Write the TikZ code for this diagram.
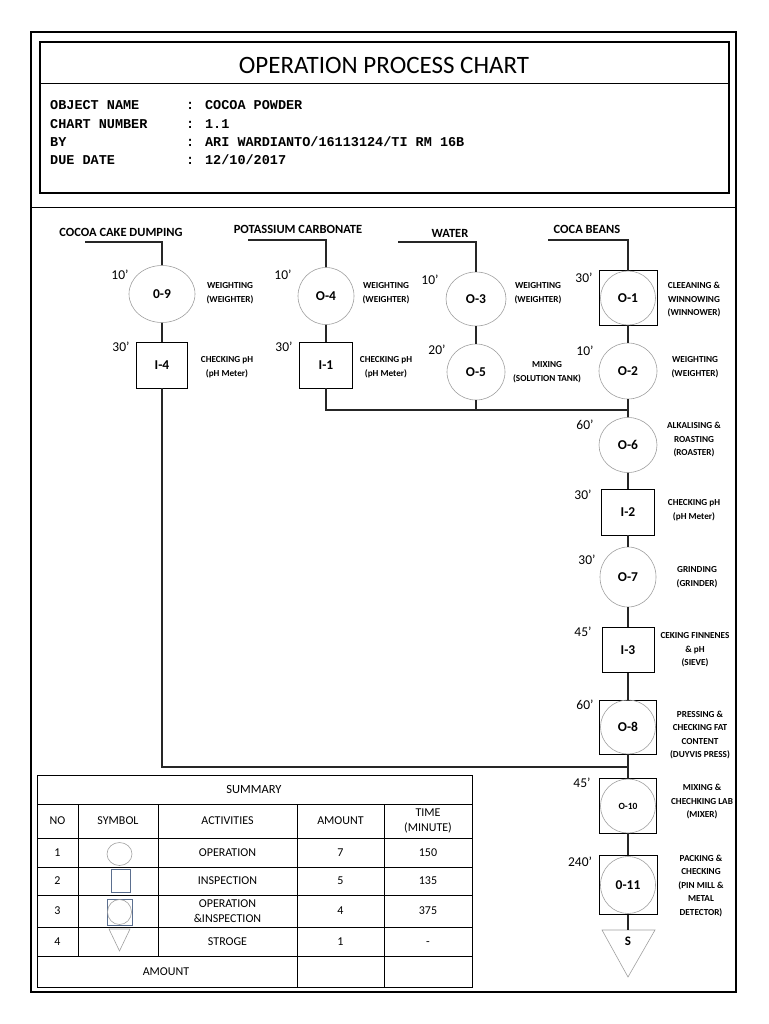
\documentclass[tikz,border=0pt]{standalone}
\usepackage{fontspec}
\setmainfont{Carlito}
\newfontfamily\monof{Liberation Mono}
\usetikzlibrary{shapes.geometric,calc}
\definecolor{cgray}{HTML}{A0A0A0}
\definecolor{sqblue}{HTML}{5B6F8F}
\begin{document}
\begin{tikzpicture}[x=1pt,y=-1pt,
  op/.style={ellipse, draw=cgray, line width=0.6pt, minimum width=58pt, minimum height=56pt, inner sep=0pt, font=\fontsize{13.5}{13.5}\selectfont\bfseries},
  insp/.style={rectangle, draw=black, line width=0.7pt, minimum width=53pt, minimum height=46pt, inner sep=0pt, font=\fontsize{13.5}{13.5}\selectfont\bfseries},
  combo/.style={rectangle, draw=black, line width=0.7pt, minimum width=58pt, minimum height=55pt, inner sep=0pt},
  combocirc/.style={ellipse, draw=cgray, line width=0.6pt, minimum width=55pt, minimum height=54pt, inner sep=0pt, font=\fontsize{13.5}{13.5}\selectfont\bfseries},
  conn/.style={line width=1.1pt, draw=black!85},
  desc/.style={font=\fontsize{9.2}{13.5}\selectfont\bfseries, align=center, inner sep=0pt},
  tlab/.style={font=\fontsize{13.5}{14}\selectfont, inner sep=0pt},
  inlab/.style={font=\fontsize{12.5}{13}\selectfont\bfseries, inner sep=0pt},
  hdr/.style={font=\monof\fontsize{13.5}{14}\selectfont\bfseries, anchor=west, inner sep=0pt},
  tab/.style={font=\fontsize{12}{15}\selectfont, align=center, inner sep=0pt},
  frame/.style={line width=1.8pt, draw=black}
]
\useasboundingbox (0,0) rectangle (768,1024);
\fill[white] (0,0) rectangle (768,1024);

% frames
\draw[frame] (31,32) rectangle (736,992);
\draw[frame] (40,42) rectangle (729,193);
\draw[line width=0.9pt] (40,83) -- (729,83);
\draw[line width=0.9pt] (31,207) -- (736,207);

% header
\node[font=\fontsize{25}{26}\selectfont, inner sep=0pt] (title) at (384,65) {OPERATION PROCESS CHART};
\node[hdr] (h1) at (50,105) {OBJECT NAME};
\node[hdr] (h2) at (50,124) {CHART NUMBER};
\node[hdr] (h3) at (50,142) {BY};
\node[hdr] (h4) at (50,160) {DUE DATE};
\node[hdr] (v1) at (186,105) {: COCOA POWDER};
\node[hdr] (v2) at (186,124) {: 1.1};
\node[hdr] (v3) at (186,142) {: ARI WARDIANTO/16113124/TI RM 16B};
\node[hdr] (v4) at (186,160) {: 12/10/2017};

% input labels
\node[inlab] (lcake) at (121,232) {COCOA CAKE DUMPING};
\node[inlab] (lpot) at (298,229) {POTASSIUM CARBONATE};
\node[inlab] (lwat) at (450,233) {WATER};
\node[inlab] (lbean) at (587,229) {COCA BEANS};
\coordinate (s9) at (85,242);
\coordinate (s4) at (248,240);
\coordinate (s3) at (398,242);
\coordinate (s1) at (548,240);

% left branch
\node[op, minimum width=66pt, minimum height=57pt] (o9) at (162,294) {0-9};
\node[insp, minimum width=51pt] (i4) at (162,365) {I-4};
% potassium branch
\node[op, minimum width=56pt, minimum height=57pt] (o4) at (326,296) {O-4};
\node[insp] (i1) at (326,365) {I-1};
% water branch
\node[op, minimum width=60pt, minimum height=54pt] (o3) at (476,299) {O-3};
\node[op] (o5) at (476,372) {O-5};
% main column
\node[combo] (o1) at (628,298) {};
\node[combocirc] (o1c) at (628,298) {O-1};
\node[op] (o2) at (628,371) {O-2};
\node[op, minimum height=55pt] (o6) at (628,445) {O-6};
\node[insp] (i2) at (628,512) {I-2};
\node[op, minimum width=56pt, minimum height=60pt] (o7) at (628,577) {O-7};
\node[insp, minimum width=52pt, minimum height=45pt] (i3) at (628,650) {I-3};
\node[combo, minimum width=57pt, minimum height=54pt] (o8) at (628,727) {};
\node[combocirc] (o8c) at (628,727) {O-8};
\node[combo, minimum width=57pt] (o10) at (628,806) {};
\node[combocirc, font=\fontsize{9.5}{9.5}\selectfont\bfseries] (o10c) at (628,806) {O-10};
\node[combo, minimum height=59pt] (o11) at (628,885) {};
\node[combocirc, minimum height=57pt] (o11c) at (628,885) {0-11};
% storage
\coordinate (stop) at (628,930);
\draw[draw=cgray, line width=0.6pt] (602,930) -- (655,930) -- (628,977) -- cycle;
\node[font=\fontsize{13}{13}\selectfont\bfseries, inner sep=0pt] (sl) at (628,941) {S};

% junctions
\coordinate (j1) at (628,410);
\coordinate (j2) at (628,767);

% connectors
\draw[conn] (s9) -| (o9.north);
\draw[conn] (s4) -| (o4.north);
\draw[conn] (s3) -| (o3.north);
\draw[conn] (s1) -| (o1.north);
\draw[conn] (o9.south) -- (i4.north);
\draw[conn] (o4.south) -- (i1.north);
\draw[conn] (o3.south) -- (o5.north);
\draw[conn] (o1.south) -- (o2.north);
\draw[conn] (i1.south) |- (j1);
\draw[conn] (o5.south) -- (o5.south |- j1);
\draw[conn] (o2.south) -- (o6.north);
\draw[conn] (o6.south) -- (i2.north);
\draw[conn] (i2.south) -- (o7.north);
\draw[conn] (o7.south) -- (i3.north);
\draw[conn] (i3.south) -- (o8.north);
\draw[conn] (o8.south) -- (o10.north);
\draw[conn] (i4.south) |- (j2);
\draw[conn] (o10.south) -- (o11.north);
\draw[conn] (o11.south) -- (stop);

% time labels
\node[tlab] (t9) at (120,275) {10’};
\node[tlab] (t4a) at (121,347) {30’};
\node[tlab] (t4) at (283,275) {10’};
\node[tlab] (t1a) at (284,347) {30’};
\node[tlab] (t3) at (430,280) {10’};
\node[tlab] (t5) at (437,350) {20’};
\node[tlab] (t1) at (584,278) {30’};
\node[tlab] (t2) at (585,351) {10’};
\node[tlab] (t6) at (585,425) {60’};
\node[tlab] (ti2) at (583,495) {30’};
\node[tlab] (t7) at (587,560) {30’};
\node[tlab] (ti3) at (583,632) {45’};
\node[tlab] (t8) at (585,705) {60’};
\node[tlab] (t10) at (582,783) {45’};
\node[tlab] (t11) at (580,862) {240’};

% descriptions
\node[desc] (d9) at (230,293) {WEIGHTING\\(WEIGHTER)};
\node[desc] (d4) at (386,293) {WEIGHTING\\(WEIGHTER)};
\node[desc] (d3) at (538,293) {WEIGHTING\\(WEIGHTER)};
\node[desc] (d1) at (694,300) {CLEEANING \&\\WINNOWING\\(WINNOWER)};
\node[desc] (di4) at (227,367) {CHECKING pH\\(pH Meter)};
\node[desc] (di1) at (386,367) {CHECKING pH\\(pH Meter)};
\node[desc] (d5) at (547,372) {MIXING\\(SOLUTION TANK)};
\node[desc] (d2) at (695,367) {WEIGHTING\\(WEIGHTER)};
\node[desc] (d6) at (694,440) {ALKALISING \&\\ROASTING\\(ROASTER)};
\node[desc] (di2) at (694,510) {CHECKING pH\\(pH Meter)};
\node[desc] (d7) at (697,577) {GRINDING\\(GRINDER)};
\node[desc] (di3) at (695,650) {CEKING FINNENES\\\& pH\\(SIEVE)};
\node[desc] (d8) at (700,735) {PRESSING \&\\CHECKING FAT\\CONTENT\\(DUYVIS PRESS)};
\node[desc] (d10) at (702,802) {MIXING \&\\CHECHKING LAB\\(MIXER)};
\node[desc] (d11) at (701,886) {PACKING \&\\CHECKING\\(PIN MILL \&\\METAL\\DETECTOR)};

% summary table
\draw[line width=0.7pt] (37,775) rectangle (472,987);
\foreach \yy in {804,838,867,895,927,956} \draw[line width=0.7pt] (37,\yy) -- (472,\yy);
\foreach \xx in {78,158} \draw[line width=0.7pt] (\xx,804) -- (\xx,956);
\foreach \xx in {297,384} \draw[line width=0.7pt] (\xx,804) -- (\xx,987);
\node[tab, font=\fontsize{12.5}{15}\selectfont] (tsum) at (254,789.5) {SUMMARY};
\node[tab] (tno) at (57.5,821) {NO};
\node[tab] (tsym) at (118,821) {SYMBOL};
\node[tab] (tact) at (227.5,821) {ACTIVITIES};
\node[tab] (tamt) at (340.5,821) {AMOUNT};
\node[tab, font=\fontsize{12}{15.5}\selectfont] (ttime) at (428,821) {TIME\\(MINUTE)};
\node[tab] (r1a) at (57.5,852.5) {1};
\node[tab] (r1c) at (227.5,852.5) {OPERATION};
\node[tab] (r1d) at (340.5,852.5) {7};
\node[tab] (r1e) at (428,852.5) {150};
\node[tab] (r2a) at (57.5,881) {2};
\node[tab] (r2c) at (227.5,881) {INSPECTION};
\node[tab] (r2d) at (340.5,881) {5};
\node[tab] (r2e) at (428,881) {135};
\node[tab] (r3a) at (57.5,911) {3};
\node[tab] (r3c) at (227.5,911) {OPERATION\\\&INSPECTION};
\node[tab] (r3d) at (340.5,911) {4};
\node[tab] (r3e) at (428,911) {375};
\node[tab] (r4a) at (57.5,941.5) {4};
\node[tab] (r4c) at (227.5,941.5) {STROGE};
\node[tab] (r4d) at (340.5,941.5) {1};
\node[tab] (r4e) at (428,943.5) {-};
\node[tab] (tamount) at (166,971.5) {AMOUNT};
% symbols
\node[ellipse, draw=cgray, line width=0.6pt, minimum width=25pt, minimum height=23pt, inner sep=0pt] (sy1) at (119.5,854) {};
\node[rectangle, draw=sqblue, line width=0.8pt, minimum width=19pt, minimum height=23pt, inner sep=0pt] (sy2) at (120.5,880.5) {};
\node[rectangle, draw=sqblue, line width=0.8pt, minimum width=25pt, minimum height=26pt, inner sep=0pt] (sy3) at (119.5,912) {};
\node[ellipse, draw=cgray, line width=0.6pt, minimum width=24pt, minimum height=25pt, inner sep=0pt] (sy3c) at (119.5,912) {};
\draw[draw=cgray, line width=0.6pt] (109,929) -- (130,929) -- (119.5,951) -- cycle;
\end{tikzpicture}
\end{document}
